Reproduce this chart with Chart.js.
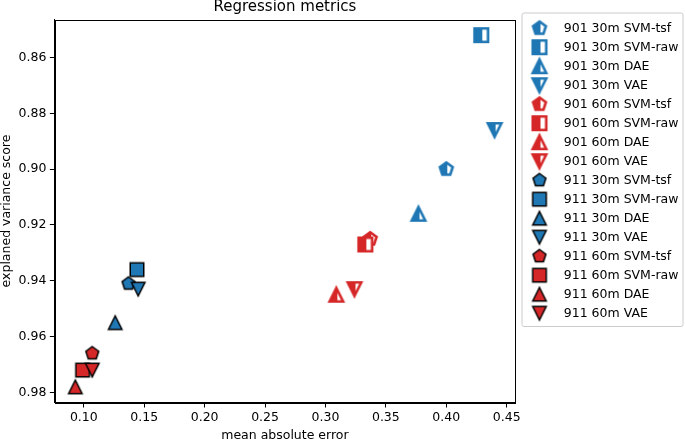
<!DOCTYPE html>
<html>
<head>
<meta charset="utf-8">
<script src="https://cdn.jsdelivr.net/npm/chart.js@4.4.1/dist/chart.umd.min.js"></script>
<style>
  html, body { margin: 0; padding: 0; background: #fff; }
  #wrap { width: 685px; height: 439px; }
</style>
</head>
<body>
<div id="wrap"><canvas id="chart"></canvas></div>
<script>
// groups and methods, in legend order
const groupLabels = ['901 30m', '901 60m', '911 30m', '911 60m'];
const methodLabels = ['SVM-tsf', 'SVM-raw', 'DAE', 'VAE'];

// mean absolute error / explained variance score, per method (tsf, raw, DAE, VAE)
const mae901_30m = [0.400, 0.429, 0.377, 0.440];
const evs901_30m = [0.900, 0.852, 0.916, 0.886];
const mae901_60m = [0.337, 0.333, 0.309, 0.324];
const evs901_60m = [0.925, 0.927, 0.945, 0.943];
const mae911_30m = [0.137, 0.144, 0.126, 0.145];
const evs911_30m = [0.941, 0.936, 0.955, 0.943];
const mae911_60m = [0.107, 0.099, 0.093, 0.107];
const evs911_60m = [0.966, 0.972, 0.978, 0.972];

const xTicks = [0.10, 0.15, 0.20, 0.25, 0.30, 0.35, 0.40, 0.45];
const yTicks = [0.86, 0.88, 0.90, 0.92, 0.94, 0.96, 0.98];

const maeByGroup = [mae901_30m, mae901_60m, mae911_30m, mae911_60m];
const evsByGroup = [evs901_30m, evs901_60m, evs911_30m, evs911_60m];
const groupColors = ['#1f77b4', '#d62728', '#1f77b4', '#d62728'];
const groupHalf = [true, true, false, false];
const methodShapes = ['pentagon', 'square', 'triUp', 'triDown'];

const FONT = 'DejaVu Sans';

function shapePath(ctx, shape, r) {
    ctx.beginPath();
    if (shape === 'square') {
        ctx.rect(-r, -r, 2 * r, 2 * r);
    } else if (shape === 'pentagon') {
        for (var i = 0; i < 5; i++) {
            var a = -Math.PI / 2 + i * 2 * Math.PI / 5;
            var px = r * Math.cos(a), py = r * Math.sin(a);
            if (i === 0) ctx.moveTo(px, py); else ctx.lineTo(px, py);
        }
        ctx.closePath();
    } else if (shape === 'triUp') {
        ctx.moveTo(0, -r); ctx.lineTo(r, r); ctx.lineTo(-r, r); ctx.closePath();
    } else {
        ctx.moveTo(0, r); ctx.lineTo(r, -r); ctx.lineTo(-r, -r); ctx.closePath();
    }
}

// matplotlib-like marker drawn on a small canvas, used as pointStyle
function makeMarker(shape, color, half) {
    var size = 24;
    var c = document.createElement('canvas');
    c.width = size; c.height = size;
    var ctx = c.getContext('2d');
    ctx.translate(size / 2, size / 2);
    ctx.lineJoin = 'miter';
    var r = 6.75;
    shapePath(ctx, shape, r);
    ctx.fillStyle = color;
    ctx.fill();
    if (half) {
        ctx.save();
        ctx.clip();
        ctx.fillStyle = '#fff';
        ctx.fillRect(1, -size, size, 2 * size);
        ctx.restore();
        shapePath(ctx, shape, r);
        ctx.strokeStyle = color;
        ctx.lineWidth = 2.6;
        ctx.stroke();
    } else {
        ctx.strokeStyle = '#000';
        ctx.lineWidth = 1.5;
        ctx.stroke();
    }
    return c;
}

var datasets = [];
groupLabels.forEach((g, gi) => {
    methodLabels.forEach((m, mi) => {
        datasets.push({
            label: g + ' ' + m,
            data: [{ x: maeByGroup[gi][mi], y: evsByGroup[gi][mi] }],
            pointStyle: makeMarker(methodShapes[mi], groupColors[gi], groupHalf[gi]),
            pointRadius: 8,
            order: 100 - datasets.length
        });
    });
});

var framePlugin = {
    id: 'frames',
    afterDraw: (chart) => {
        var ctx = chart.ctx;
        var a = chart.chartArea;
        ctx.save();
        ctx.strokeStyle = '#000';
        ctx.lineWidth = 1;
        ctx.strokeRect(Math.round(a.left) + 0.5, Math.round(a.top) + 0.5,
            Math.round(a.right - a.left), Math.round(a.bottom - a.top));
        var lg = chart.legend;
        var hb = lg.legendHitBoxes;
        if (hb && hb.length) {
            var first = hb[0], last = hb[hb.length - 1];
            var l = first.left + 0.5, t = first.top - 9;
            var rr = lg.right - 2, b = last.top + last.height + 7;
            ctx.strokeStyle = '#cccccc';
            ctx.beginPath();
            ctx.roundRect(l, t, rr - l, b - t, 2);
            ctx.stroke();
        }
        ctx.restore();
    }
};

var tickFont = { family: FONT, size: 12.5, lineHeight: 1.2 };

var config = {
    type: 'scatter',
    data: { datasets: datasets },
    options: {
        animation: { duration: 0 },
        events: [],
        responsive: true,
        maintainAspectRatio: false,
        devicePixelRatio: 1,
        layout: { padding: { left: 0, top: 0, right: 0, bottom: -3 } },
        plugins: {
            title: {
                display: true,
                text: 'Regression metrics',
                fullSize: false,
                color: '#000',
                font: { family: FONT, size: 15, weight: 'normal', lineHeight: 1 },
                padding: { top: 0, bottom: 4.5 }
            },
            legend: {
                display: true,
                position: 'right',
                align: 'start',
                maxWidth: 170,
                title: {
                    display: true,
                    text: '',
                    font: { family: FONT, size: 12, lineHeight: 1 },
                    padding: { top: 3.5, bottom: 0 }
                },
                labels: {
                    usePointStyle: true,
                    pointStyleWidth: 36,
                    padding: 6.5,
                    color: '#000',
                    font: { family: FONT, size: 12.5 },
                    sort: (a, b) => a.datasetIndex - b.datasetIndex
                }
            },
            tooltip: { enabled: false }
        },
        scales: {
            x: {
                type: 'linear',
                min: 0.076,
                max: 0.4569,
                afterBuildTicks: (scale) => { scale.ticks = xTicks.map((v) => ({ value: v })); },
                ticks: {
                    color: '#000',
                    font: tickFont,
                    padding: 3,
                    maxRotation: 0,
                    autoSkip: false,
                    callback: (v) => v.toFixed(2)
                },
                grid: { display: true, drawOnChartArea: false, drawTicks: true, tickLength: 5, color: '#000' },
                border: { display: true, color: '#000' },
                title: {
                    display: true,
                    text: 'mean absolute error',
                    color: '#000',
                    font: { family: FONT, size: 12.5, lineHeight: 1 },
                    padding: { top: 1, bottom: 0 }
                }
            },
            y: {
                type: 'linear',
                reverse: true,
                min: 0.8464,
                max: 0.9836,
                afterBuildTicks: (scale) => { scale.ticks = yTicks.map((v) => ({ value: v })); },
                ticks: {
                    color: '#000',
                    font: tickFont,
                    padding: 3.5,
                    autoSkip: false,
                    callback: (v) => v.toFixed(2)
                },
                grid: { display: true, drawOnChartArea: false, drawTicks: true, tickLength: 5, color: '#000' },
                border: { display: true, color: '#000' },
                title: {
                    display: true,
                    text: 'explaned variance score',
                    color: '#000',
                    font: { family: FONT, size: 12.5, lineHeight: 1 },
                    padding: { top: 0, bottom: 2.5 }
                }
            }
        }
    },
    plugins: [framePlugin]
};

new Chart(document.getElementById('chart'), config);
</script>
</body>
</html>
